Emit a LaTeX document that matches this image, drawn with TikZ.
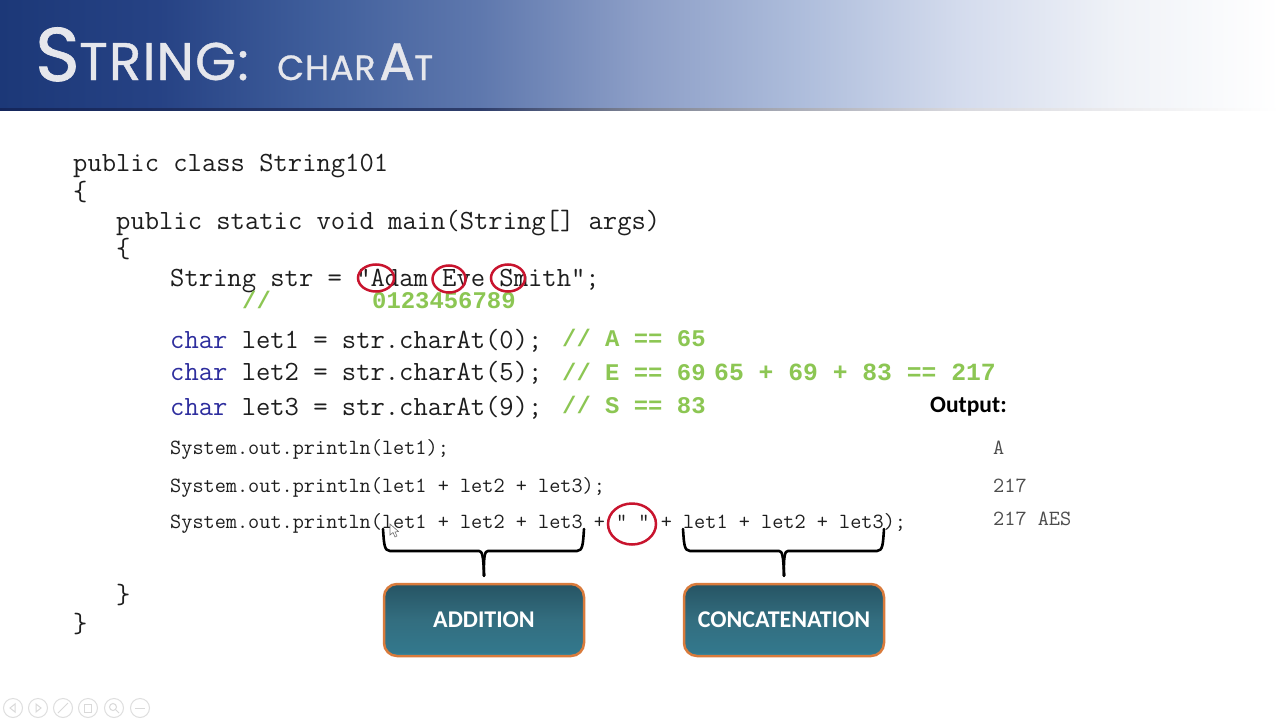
\documentclass[tikz,border=0pt]{standalone}
\usepackage{fontspec}
\setmainfont{Carlito}
\newfontfamily\titlefont[RawFeature={embolden=0.8},LetterSpace=2.2]{Poppins}
\newfontfamily\titlefontS[RawFeature={embolden=1}]{Poppins}
\newfontfamily\greenmono{Liberation Mono}
\usetikzlibrary{shapes.geometric,calc}
\definecolor{codeblack}{HTML}{1E1E1E}
\definecolor{codegreen}{HTML}{8CC653}
\definecolor{codeblue}{HTML}{2E2E9E}
\definecolor{ringred}{HTML}{C8142E}
\definecolor{boxedge}{HTML}{D97B3C}
\definecolor{titlewhite}{HTML}{E6E7EC}
% TikZ maps a picture's box onto the middle 25bp--75bp of a 100bp shading
\pgfdeclarehorizontalshading{headershade}{100bp}{
 rgb(0bp)=(0.11,0.22,0.47);
 rgb(25bp)=(0.11,0.22,0.47);
 rgb(31.25bp)=(0.15,0.26,0.52);
 rgb(37.5bp)=(0.25,0.37,0.61);
 rgb(43.75bp)=(0.37,0.47,0.68);
 rgb(50bp)=(0.55,0.62,0.78);
 rgb(56.25bp)=(0.68,0.74,0.86);
 rgb(62.5bp)=(0.83,0.86,0.93);
 rgb(68.75bp)=(0.94,0.95,0.97);
 rgb(75bp)=(1,1,1);
 rgb(100bp)=(1,1,1)}
\pgfdeclarehorizontalshading{headerline}{100bp}{
 rgb(0bp)=(0.08,0.15,0.36);
 rgb(25bp)=(0.08,0.15,0.36);
 rgb(43.75bp)=(0.18,0.24,0.42);
 rgb(50bp)=(0.50,0.52,0.58);
 rgb(62.5bp)=(0.85,0.85,0.87);
 rgb(75bp)=(1,1,1);
 rgb(100bp)=(1,1,1)}
\pgfdeclareverticalshading{boxshade}{100bp}{
 rgb(0bp)=(0.16,0.56,0.70);
 rgb(25bp)=(0.16,0.56,0.70);
 rgb(27.5bp)=(0.20,0.47,0.55);
 rgb(50bp)=(0.20,0.43,0.50);
 rgb(75bp)=(0.15,0.33,0.39);
 rgb(100bp)=(0.15,0.33,0.39)}
\tikzset{
 x=1pt,y=-1pt,
 codetext/.style={anchor=base west,inner sep=0pt,text=codeblack},
 bigcode/.style={codetext,font=\ttfamily\fontsize{27.8}{28}\selectfont},
 smallcode/.style={codetext,font=\ttfamily\fontsize{21.65}{22}\selectfont},
 greencode/.style={anchor=base west,inner sep=0pt,text=codegreen,font=\greenmono\bfseries\fontsize{23.9}{24}\selectfont},
 greenwide/.style={greencode,font=\greenmono\bfseries\fontsize{24.7}{25}\selectfont},
 outcode/.style={codetext,text=black!70,font=\ttfamily\fontsize{21.65}{22}\selectfont},
 ring/.style={ellipse,draw=ringred,line width=2.5pt,inner sep=0pt,fill=none},
 labelbox/.style={rounded corners=13pt,draw=boxedge,line width=2.5pt,shade,shading=boxshade,minimum width=200pt,minimum height=72pt,inner sep=0pt,text=white,font=\bfseries\fontsize{24}{26}\selectfont},
 bracket/.style={line width=2.6pt,black,line cap=round},
 titletext/.style={anchor=base west,inner sep=0pt,text=titlewhite},
 navicon/.style={draw=black!13,line width=1pt,circle,minimum size=19pt,inner sep=0pt},
 navmark/.style={draw=black!15,line width=1pt},
}
\begin{document}
\begin{tikzpicture}
\useasboundingbox (0,0) rectangle (1280,720);
\fill[white] (0,0) rectangle (1280,720);
% header band
\shade[shading=headershade] (0,0) rectangle (1280,108);
\shade[shading=headerline] (0,108) rectangle (1280,110);
% title
\node[titletext,font=\titlefontS\fontsize{76}{80}\selectfont] (tS) at (35,81) {S};
\node[titletext,font=\titlefont\fontsize{53}{56}\selectfont] (tRing) at (79,80) {TRING:};
\node[titletext,font=\titlefont\fontsize{35}{38}\selectfont] (tChar) at (277,80) {CHAR};
\node[titletext,font=\titlefont\fontsize{53}{56}\selectfont] (tA) at (379,80) {A};
\node[titletext,font=\titlefont\fontsize{35}{38}\selectfont] (tT) at (414,80) {T};
% code
\node[bigcode] (l1) at (73,171) {public class String101};
\node[bigcode] (l2) at (73,200) {\{};
\node[bigcode] (l3) at (116,229) {public static void main(String[] args)};
\node[bigcode] (l4) at (116,257) {\{};
\node[bigcode] (l5) at (170,286) {String str = “Adam Eve Smith”;};
\node[greencode] (g1) at (242,308) {//};
\node[greencode] (g2) at (372,308) {0123456789};
\node[bigcode] (c1) at (170,348) {\textcolor{codeblue}{char} let1 = str.charAt(0);};
\node[greencode] (g3) at (562,346) {// A == 65};
\node[bigcode] (c2) at (170,380) {\textcolor{codeblue}{char} let2 = str.charAt(5);};
\node[greencode] (g4) at (562,380) {// E == 69};
\node[greenwide] (g6) at (714,380) {65 + 69 + 83 == 217};
\node[bigcode] (c3) at (170,415) {\textcolor{codeblue}{char} let3 = str.charAt(9);};
\node[greencode] (g5) at (562,413) {// S == 83};
\node[anchor=base west,inner sep=0pt,font=\bfseries\fontsize{23.5}{24}\selectfont] (out) at (930,412) {Output:};
\node[smallcode] (p1) at (170,454) {System.out.println(let1);};
\node[smallcode] (p2) at (170,492) {System.out.println(let1 + let2 + let3);};
\node[smallcode] (p3) at (170,528) {System.out.println(let1 + let2 + let3 + “ ” + let1 + let2 + let3);};
\node[outcode] (o1) at (993,454) {A};
\node[outcode] (o2) at (993,492) {217};
\node[outcode] (o3) at (993,525) {217 AES};
\node[bigcode] (e1) at (116,603) {\}};
\node[bigcode] (e2) at (73,632) {\}};
% rings
\node[ring,minimum width=36pt,minimum height=27pt] (r1) at (376,278) {};
\node[ring,minimum width=33pt,minimum height=27pt] (r2) at (449,279) {};
\node[ring,minimum width=34pt,minimum height=27pt] (r3) at (508,278) {};
\node[ring,minimum width=48pt,minimum height=41pt] (r4) at (632,524) {};
% boxes
\node[labelbox] (add) at (484,620) {ADDITION};
\node[labelbox] (con) at (784,620) {CONCATENATION};
% braces
\coordinate (addL) at (383,529);
\coordinate (addR) at (584,529);
\coordinate (conL) at (683,529);
\coordinate (conR) at (884,529);
\draw[bracket] (addL) .. controls (384,543) and (384,551) .. (390,551) -- (479,551)
  .. controls (482,551) and (483.5,555) .. ($(add.north)+(0,-7)$);
\draw[bracket] (addR) .. controls (583,543) and (583,551) .. (577,551) -- (488,551)
  .. controls (485,551) and (483.5,555) .. ($(add.north)+(0,-7)$);
\draw[bracket] (conL) .. controls (684,543) and (684,551) .. (690,551) -- (779,551)
  .. controls (782,551) and (783.5,555) .. ($(con.north)+(0,-7)$);
\draw[bracket] (conR) .. controls (883,543) and (883,551) .. (877,551) -- (788,551)
  .. controls (785,551) and (783.5,555) .. ($(con.north)+(0,-7)$);
% mouse pointer
\fill[white,draw=black!55,line width=.6pt] (390,524) -- (390,535) -- (393,532.5) -- (395,537) -- (397,536) -- (395,532) -- (398.5,531.5) -- cycle;
% slide controls
\node[navicon] (n1) at (13,708) {};
\node[navicon] (n2) at (38,708) {};
\node[navicon] (n3) at (63,708) {};
\node[navicon] (n4) at (88,708) {};
\node[navicon] (n5) at (114,708) {};
\node[navicon] (n6) at (140,708) {};
\draw[navmark] (15,704) -- (10,708) -- (15,712) -- cycle;
\draw[navmark] (36,704) -- (41,708) -- (36,712) -- cycle;
\draw[navmark] (58,713) -- (68,703);
\draw[navmark] (84,704) rectangle (91,712);
\draw[navmark] (113,707) circle (3.5pt) (116,710) -- (119,713);
\draw[navmark] (135,708) -- (145,708);
\end{tikzpicture}
\end{document}
